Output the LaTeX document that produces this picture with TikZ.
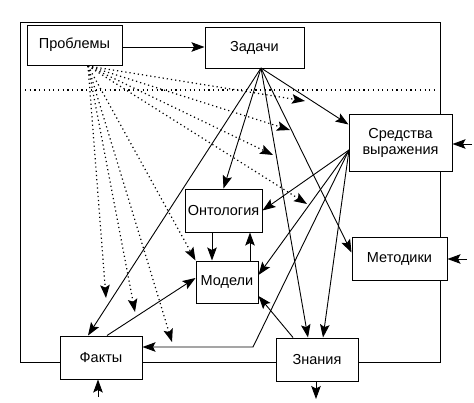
\documentclass[tikz,border=0pt]{standalone}
\usepackage{fontspec}
\setmainfont{Liberation Sans}
\usetikzlibrary{arrows.meta,calc}
\begin{document}
\begin{tikzpicture}[x=1pt,y=-1pt,
  box/.style={draw,fill=white,line width=1pt,inner sep=0pt,align=center,font=\fontsize{14.5}{16}\selectfont},
  arr/.style={line width=0.9pt,-{Stealth[length=13pt,width=9.5pt,inset=2.5pt]}},
  dots/.style={arr,line width=1.2pt,dash pattern=on 1.2pt off 3pt},
  frame/.style={line width=1pt}]
\useasboundingbox (0,0) rectangle (474,402);
% outer frame and dotted separator
\draw[frame] (20,22) rectangle (440,362);
\coordinate (dl) at (25,90);
\coordinate (dr) at (437,90);
\draw[line width=1.2pt,dash pattern=on 1.2pt off 3.5pt] (dl) -- (dr);
% boxes
\node[box,minimum width=95pt,minimum height=40pt] (p) at (74.5,45) {Проблемы};
\node[box,minimum width=99pt,minimum height=41pt] (z) at (254.5,47.5) {Задачи};
\node[box,minimum width=103pt,minimum height=57pt] (s) at (400.5,142.5) {Средства\\выражения};
\node[box,minimum width=77pt,minimum height=43pt] (o) at (223.5,210.5) {Онтология};
\node[box,minimum width=62pt,minimum height=42pt] (m) at (227,282) {Модели};
\node[box,minimum width=95pt,minimum height=43pt] (met) at (399.5,258.5) {Методики};
\node[box,minimum width=82pt,minimum height=43pt] (f) at (101,357.5) {Факты};
\node[box,minimum width=82pt,minimum height=43pt] (zn) at (317,359.5) {Знания};
% origins
\coordinate (po) at (88,66);
\coordinate (zo) at (261,68);
\coordinate (so) at (349,150);
% Problems -> Tasks
\draw[arr] ($(p.east)+(0,2)$) -- ($(z.west)+(0,-0.5)$);
% dotted arrows from Problems
\coordinate (da) at (305,101);
\coordinate (db) at (290,130);
\coordinate (dc) at (273,155);
\coordinate (dd) at (307,204);
\coordinate (df) at (172,342);
\coordinate (dg) at (135,312);
\coordinate (dh) at (106,298);
\foreach \t in {da,db,dc,dd,df,dg,dh} \draw[dots] (po) -- (\t);
\draw[dots] (po) -- (m.north west);
% arrows from Tasks
\draw[arr] (zo) -- ($(s.north west)+(0,11)$);
\draw[arr] (zo) -- (o.north);
\draw[arr] (zo) -- ($(f.north)+(-13,0)$);
\draw[arr] (zo) -- ($(zn.north)+(-9,0)$);
\draw[arr] (zo) -- ($(met.west)+(0,-6)$);
% arrows from means of expression
\coordinate (fb) at (253,347);
\draw[arr] (so) -- (o.east);
\draw[arr] (so) -- ($(m.east)+(0,-7)$);
\draw[arr] (so) -- (fb) -- (fb -| f.east);
\draw[arr] (so) -- ($(zn.north)+(6,0)$);
% others
\draw[arr] ($(zn.north)+(-24,0)$) -- ($(m.east)+(0,14)$);
\draw[arr] ($(f.north)+(6,0)$) -- ($(m.west)+(0,-4)$);
\draw[arr] ($(o.south)+(-11.5,0)$) -- ($(m.north)+(-15,0)$);
\draw[arr] ($(m.north)+(23,0)$) -- ($(o.south)+(26.5,0)$);
% external
\coordinate (sin) at (472,144);
\coordinate (metin) at (467,259);
\coordinate (fin) at (98,397);
\coordinate (znout) at (316,399);
\draw[arr] (sin) -- (sin -| s.east);
\draw[arr] (metin) -- (metin -| met.east);
\draw[arr] (fin) -- (fin |- f.south);
\draw[arr] (znout |- zn.south) -- (znout);
\end{tikzpicture}
\end{document}
